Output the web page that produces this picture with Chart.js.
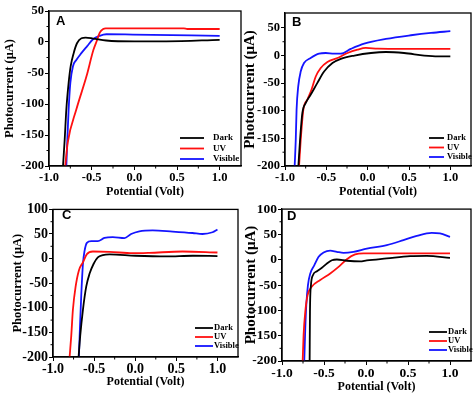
<!DOCTYPE html>
<html>
<head>
<meta charset="utf-8">
<script src="https://cdn.jsdelivr.net/npm/chart.js@4"></script>
<style>
  html, body { margin: 0; padding: 0; background: #fff; }
  #wrap { position: relative; width: 474px; height: 399px; overflow: hidden; }
  #wrap canvas { position: absolute; }
</style>
</head>
<body>
<div id="wrap">
  <canvas id="chartA" width="246" height="200" style="left:0;top:0"></canvas>
  <canvas id="chartB" width="234" height="200" style="left:240px;top:0"></canvas>
  <canvas id="chartC" width="246" height="199" style="left:0;top:200px"></canvas>
  <canvas id="chartD" width="234" height="199" style="left:240px;top:200px"></canvas>
</div>
<script>
// shared ticks and series
var xTicks = [-1.0, -0.5, 0.0, 0.5, 1.0];
var yTicksAB = [-200, -150, -100, -50, 0, 50];
var yTicksCD = [-200, -150, -100, -50, 0, 50, 100];
var seriesNames = ['Dark', 'UV', 'Visible'];
var seriesColors = ['#000000', '#ff1010', '#1414ff'];

// Panel A
var aDarkX = [-0.836, -0.816, -0.797, -0.77, -0.746, -0.711, -0.672, -0.62, -0.57, -0.484, -0.33, 0.0, 0.375, 1.0];
var aDarkY = [-200, -157, -109, -66, -39, -18, -2, 6, 7, 5.6, 2.4, 1, 1, 3.5];
var aUvX = [-0.81, -0.78, -0.68, -0.56, -0.48, -0.445, -0.405, -0.365, -0.335, 0.58, 0.62, 1.0];
var aUvY = [-200, -162, -109, -55, -13, 0, 15, 21, 22, 22, 21, 21];
var aVisX = [-0.797, -0.785, -0.77, -0.75, -0.719, -0.68, -0.621, -0.555, -0.484, -0.406, -0.328, -0.016, 1.0];
var aVisY = [-200, -157, -109, -66, -39, -29, -18, -7, 4.5, 10, 12.5, 12, 10];

// Panel B
var bDarkX = [-0.838, -0.818, -0.79, -0.75, -0.69, -0.61, -0.527, -0.426, -0.325, -0.16, 0.04, 0.22, 0.44, 0.685, 0.85, 1.0];
var bDarkY = [-200, -153, -104, -86, -71, -50, -29, -13.6, -6, 0, 4.6, 6.4, 4.6, 0, -1.5, -1.5];
var bUvX = [-0.83, -0.81, -0.778, -0.73, -0.68, -0.628, -0.568, -0.487, -0.366, -0.244, -0.123, -0.022, 0.12, 0.44, 1.0];
var bUvY = [-200, -153, -98, -80, -62, -38, -22.6, -11.7, -4.5, 4.6, 10.7, 13.7, 12.5, 12, 12];
var bVisX = [-0.883, -0.87, -0.86, -0.84, -0.81, -0.77, -0.69, -0.588, -0.507, -0.406, -0.325, -0.204, -0.042, 0.22, 0.523, 0.766, 1.0];
var bVisY = [-200, -153, -98, -56, -29, -13.6, -4.5, 3.4, 4.6, 3.4, 3.4, 12, 21.5, 30, 36.7, 41, 44];

// Panel C
var cDarkX = [-0.689, -0.669, -0.636, -0.596, -0.556, -0.507, -0.455, -0.394, -0.313, 0.002, 0.374, 0.7, 1.0];
var cDarkY = [-200, -157, -104, -57, -31, -11, 2.4, 7, 8.4, 5.8, 4.4, 5.8, 5.1];
var cUvX = [-0.798, -0.778, -0.758, -0.725, -0.685, -0.636, -0.588, -0.515, -0.313, -0.03, 0.17, 0.576, 1.0];
var cUvY = [-200, -157, -104, -57, -24, -7.5, 9, 14.4, 13.7, 11, 11.7, 14.4, 12.4];
var cVisX = [-0.685, -0.673, -0.657, -0.636, -0.616, -0.588, -0.535, -0.455, -0.374, -0.273, -0.131, -0.05, 0.05, 0.212, 0.455, 0.697, 0.818, 0.94, 1.0];
var cVisY = [-200, -143, -77, -11, 15.7, 32, 35.6, 35.6, 42, 43.6, 41.6, 50, 55.5, 57.5, 55, 52, 50, 53.5, 59];

// Panel D
var dDarkX = [-0.671, -0.667, -0.655, -0.632, -0.584, -0.525, -0.465, -0.406, -0.347, -0.228, -0.07, 0.01, 0.248, 0.525, 0.723, 1.0];
var dDarkY = [-200, -103, -50, -30.5, -22.6, -16, -7.5, -1, 0.5, -2, -3.4, -1.4, 2.5, 7, 7.6, 3.7];
var dUvX = [-0.754, -0.743, -0.723, -0.695, -0.644, -0.545, -0.426, -0.327, -0.228, -0.129, -0.03, 1.0];
var dUvY = [-200, -149, -103, -70, -53, -40, -27, -14, 1, 10.4, 12.4, 12.4];
var dVisX = [-0.735, -0.723, -0.711, -0.691, -0.663, -0.616, -0.564, -0.505, -0.426, -0.347, -0.267, -0.149, 0.01, 0.248, 0.446, 0.604, 0.782, 0.881, 1.0];
var dVisY = [-200, -136, -90, -50, -27, -11, 5.7, 14.3, 18, 15.6, 13.6, 15.6, 22, 29, 38.7, 47, 53, 52, 45];

var SERIF = '"Liberation Serif", "Times New Roman", serif';

// frame, minor ticks, panel letter and legend
var panelDecor = {
  id: 'panelDecor',
  afterDraw: function (chart, args, o) {
    var ctx = chart.ctx, a = chart.chartArea;
    var xs = chart.scales.x, ys = chart.scales.y;
    ctx.save();
    ctx.strokeStyle = '#000';
    ctx.lineWidth = 1.3;
    ctx.strokeRect(a.left, a.top, a.right - a.left, a.bottom - a.top);

    // minor ticks half way between the major ones
    ctx.lineWidth = 1;
    ctx.beginPath();
    xs.ticks.forEach(function (t, i) {
      if (i === 0) return;
      var px = xs.getPixelForValue((t.value + xs.ticks[i - 1].value) / 2);
      ctx.moveTo(px, a.bottom); ctx.lineTo(px, a.bottom + 2.5);
    });
    ys.ticks.forEach(function (t, i) {
      if (i === 0) return;
      var py = ys.getPixelForValue((t.value + ys.ticks[i - 1].value) / 2);
      ctx.moveTo(a.left, py); ctx.lineTo(a.left - 2.5, py);
    });
    ctx.stroke();

    // panel letter
    ctx.fillStyle = '#000';
    ctx.font = 'bold 13px "Liberation Sans", Arial, sans-serif';
    ctx.textBaseline = 'middle';
    ctx.textAlign = 'left';
    ctx.fillText(o.letter, o.letterX, o.letterY);

    // legend
    ctx.font = 'bold ' + o.legFont + 'px ' + SERIF;
    chart.data.datasets.forEach(function (ds, i) {
      var y = o.legY + i * o.legStep;
      ctx.strokeStyle = ds.borderColor;
      ctx.lineWidth = 1.8;
      ctx.beginPath();
      ctx.moveTo(o.legX, y); ctx.lineTo(o.legX + o.legLen, y);
      ctx.stroke();
      ctx.fillStyle = '#000';
      ctx.fillText(ds.label, o.legX + o.legLen + o.legGap, y);
    });
    ctx.restore();
  }
};

function makePanel(id, p) {
  var canvas = document.getElementById(id);
  var W = canvas.width, H = canvas.height;
  var datasets = p.series.map(function (s, i) {
    return {
      label: seriesNames[i],
      data: s[0].map(function (x, k) { return {x: x, y: s[1][k]}; }),
      borderColor: seriesColors[i],
      backgroundColor: seriesColors[i],
      borderWidth: 1.8,
      pointRadius: 0,
      fill: false,
      cubicInterpolationMode: 'monotone'
    };
  });
  return new Chart(canvas, {
    type: 'line',
    data: { datasets: datasets },
    plugins: [panelDecor],
    options: {
      responsive: false,
      animation: false,
      layout: { padding: { left: 0, top: p.area.t, right: W - p.area.r, bottom: 0 } },
      plugins: {
        legend: { display: false },
        tooltip: { enabled: false },
        panelDecor: p.decor
      },
      scales: {
        x: {
          type: 'linear',
          min: -1,
          max: 1.25,
          afterBuildTicks: function (s) { s.ticks = xTicks.map(function (v) { return {value: v}; }); },
          afterFit: function (s) { s.height = H - p.area.b; },
          grid: { drawOnChartArea: false, color: '#000', tickLength: 4, tickWidth: 1 },
          border: { color: '#000', width: 1.3 },
          ticks: {
            color: '#000', padding: 0, maxRotation: 0,
            font: { family: SERIF, weight: 'bold', size: p.tickSize },
            callback: function (v) { return Number(v).toFixed(1); }
          },
          title: {
            display: true, text: 'Potential (Volt)', color: '#000',
            font: { family: SERIF, weight: 'bold', size: 12 },
            padding: { top: 0, bottom: p.xTitlePad }
          }
        },
        y: {
          type: 'linear',
          min: -200,
          max: p.yMax,
          afterBuildTicks: function (s) { s.ticks = p.yTicks.map(function (v) { return {value: v}; }); },
          afterFit: function (s) { s.width = p.area.l; },
          grid: { drawOnChartArea: false, color: '#000', tickLength: 4, tickWidth: 1 },
          border: { color: '#000', width: 1.3 },
          ticks: {
            color: '#000', padding: 1,
            font: { family: SERIF, weight: 'bold', size: p.tickSize },
            callback: function (v) { return String(v); }
          },
          title: {
            display: true, text: 'Photocurrent (μA)', color: '#000',
            font: { family: SERIF, weight: 'bold', size: p.yTitleSize, lineHeight: 1 },
            padding: { top: p.yTitlePad, bottom: 0 }
          }
        }
      }
    }
  });
}

makePanel('chartA', {
  series: [[aDarkX, aDarkY], [aUvX, aUvY], [aVisX, aVisY]],
  area: { l: 49, t: 11, r: 241, b: 166 },
  yMax: 50, yTicks: yTicksAB, tickSize: 12.5, yTitleSize: 12.5, yTitlePad: 4, xTitlePad: 1,
  decor: { letter: 'A', letterX: 56, letterY: 21, legX: 180, legY: 138, legStep: 10.5, legLen: 24, legGap: 9, legFont: 9 }
});

makePanel('chartB', {
  series: [[bDarkX, bDarkY], [bUvX, bUvY], [bVisX, bVisY]],
  area: { l: 45, t: 13, r: 231, b: 166 },
  yMax: 77, yTicks: yTicksAB, tickSize: 12.5, yTitleSize: 15, yTitlePad: 3, xTitlePad: 1,
  decor: { letter: 'B', letterX: 52, letterY: 22, legX: 189, legY: 138, legStep: 9.5, legLen: 15, legGap: 3, legFont: 8.5 }
});

makePanel('chartC', {
  series: [[cDarkX, cDarkY], [cUvX, cUvY], [cVisX, cVisY]],
  area: { l: 53, t: 6, r: 238, b: 157 },
  yMax: 100, yTicks: yTicksCD, tickSize: 14, yTitleSize: 12.5, yTitlePad: 12, xTitlePad: 10,
  decor: { letter: 'C', letterX: 62, letterY: 15.5, legX: 195, legY: 128, legStep: 9, legLen: 18, legGap: 1, legFont: 8.5 }
});

makePanel('chartD', {
  series: [[dDarkX, dDarkY], [dUvX, dUvY], [dVisX, dVisY]],
  area: { l: 42, t: 9, r: 231, b: 161 },
  yMax: 100, yTicks: yTicksCD, tickSize: 13.5, yTitleSize: 15, yTitlePad: 4, xTitlePad: 5,
  decor: { letter: 'D', letterX: 47, letterY: 16, legX: 189, legY: 132, legStep: 9, legLen: 18, legGap: 1, legFont: 8.5 }
});
</script>
</body>
</html>
